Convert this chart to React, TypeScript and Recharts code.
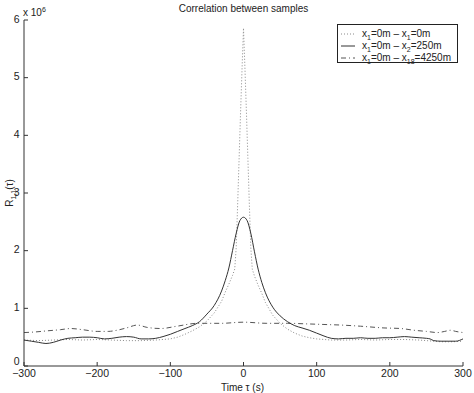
import React from 'react';
import { LineChart, Line, XAxis, YAxis } from 'recharts';

// Values are in units of 10^6
const xTicks = [-300, -200, -100, 0, 100, 200, 300];
const yTicks = [0, 1, 2, 3, 4, 5, 6];

// x1=0m – x1=0m (autocorrelation, dotted)
const autoT = [-300, -280, -260, -240, -220, -200, -180, -160, -140, -120, -100, -90, -80, -70, -60, -50, -40, -30, -25, -20, -15, -12, -10, -8, -6, -4, -2, 0,
  2, 4, 6, 8, 10, 12, 15, 20, 25, 30, 40, 50, 60, 70, 80, 90, 100, 120, 140, 160, 180, 200, 220, 240, 250, 270, 285, 300];
const autoV = [0.45, 0.44, 0.45, 0.46, 0.45, 0.46, 0.45, 0.44, 0.44, 0.45, 0.47, 0.5, 0.55, 0.61, 0.68, 0.78, 0.92, 1.12, 1.28, 1.42, 1.57, 1.68, 2.05, 2.8, 3.6, 4.4, 5.15, 5.86,
  5.15, 4.4, 3.6, 2.8, 2.05, 1.68, 1.56, 1.4, 1.26, 1.1, 0.88, 0.74, 0.64, 0.57, 0.52, 0.49, 0.47, 0.45, 0.45, 0.46, 0.45, 0.46, 0.46, 0.45, 0.44, 0.42, 0.42, 0.43];

// x1=0m – x2=250m (solid)
const nearT = [-300, -290, -280, -270, -260, -250, -240, -230, -220, -210, -200, -190, -180, -170, -160, -150, -140, -130, -120, -110, -100, -90, -80, -70, -60, -50, -40, -30, -25, -20, -15, -10, -5, 0,
  5, 10, 15, 20, 25, 30, 40, 50, 60, 70, 80, 90, 100, 110, 120, 130, 140, 150, 160, 170, 180, 190, 200, 210, 220, 230, 240, 250, 255, 260, 270, 280, 290, 300];
const nearV = [0.45, 0.43, 0.41, 0.39, 0.41, 0.45, 0.48, 0.49, 0.5, 0.5, 0.49, 0.47, 0.48, 0.5, 0.51, 0.5, 0.47, 0.47, 0.48, 0.51, 0.55, 0.6, 0.65, 0.7, 0.77, 0.9, 1.05, 1.3, 1.48, 1.7, 2.0, 2.3, 2.52, 2.58,
  2.52, 2.3, 1.98, 1.68, 1.45, 1.27, 1.02, 0.87, 0.77, 0.7, 0.66, 0.62, 0.57, 0.52, 0.48, 0.47, 0.48, 0.48, 0.49, 0.48, 0.48, 0.49, 0.49, 0.5, 0.51, 0.5, 0.49, 0.48, 0.47, 0.44, 0.43, 0.43, 0.43, 0.47];

// x1=0m – x18=4250m (dash-dot)
const farT = [-300, -285, -268, -250, -236, -220, -200, -185, -173, -160, -145, -132, -113, -91, -63, -31, 0, 32, 60, 87, 110, 133, 160, 192, 215, 233, 250, 265, 275, 283, 290, 300];
const farV = [0.58, 0.59, 0.61, 0.63, 0.65, 0.63, 0.6, 0.6, 0.62, 0.66, 0.71, 0.67, 0.65, 0.69, 0.74, 0.74, 0.76, 0.74, 0.74, 0.73, 0.72, 0.71, 0.69, 0.66, 0.65, 0.62, 0.6, 0.58, 0.6, 0.62, 0.6, 0.58];

const title = 'Correlation between samples';
const xLabel = 'Time τ (s)';

const autoData = autoT.map((t, i) => ({ t, v: autoV[i] }));
const nearData = nearT.map((t, i) => ({ t, v: nearV[i] }));
const farData = farT.map((t, i) => ({ t, v: farV[i] }));

const FONT = '"Liberation Sans", Arial, Helvetica, sans-serif';
const AXIS = '#333';
const DOT = { stroke: '#8a8a8a', dash: '1 2' };
const SOLID = { stroke: '#333', dash: undefined as string | undefined };
const DASHDOT = { stroke: '#555', dash: '5 3 1 3' };

const fmt = (v: number) => (v < 0 ? '\u2212' + Math.abs(v) : String(v));

const Sub = ({ children }: { children: React.ReactNode }) => (
  <span style={{ fontSize: 7, position: 'relative', top: 3 }}>{children}</span>
);

const YTick = (props: any) => {
  const { x, y, payload } = props;
  const lift = payload.value === 0 ? -5 : -1;
  return (
    <text x={x} y={y + lift} dy="0.35em" textAnchor="end" fill="#222" fontSize={10.5} fontFamily={FONT}>
      {fmt(payload.value)}
    </text>
  );
};

const legendRows = [
  { style: DOT, a: '1', b: '1', rest: '=0m' },
  { style: SOLID, a: '1', b: '2', rest: '=250m' },
  { style: DASHDOT, a: '1', b: '18', rest: '=4250m' },
];

export default function App() {
  return (
    <div style={{ position: 'absolute', left: 0, top: 0, width: 474, height: 393, background: '#fff', fontFamily: FONT }}>
      <LineChart width={474} height={393} margin={{ top: 20, right: 11, left: 0, bottom: 0 }}>
        <XAxis
          type="number"
          dataKey="t"
          domain={[-300, 300]}
          ticks={xTicks}
          allowDataOverflow
          height={27}
          tickSize={-4}
          tickMargin={8}
          tickFormatter={fmt}
          axisLine={{ stroke: AXIS }}
          tickLine={{ stroke: AXIS }}
          tick={{ fill: '#222', fontSize: 10.5, fontFamily: FONT }}
        />
        <YAxis
          type="number"
          domain={[0, 6]}
          ticks={yTicks}
          allowDataOverflow
          width={24}
          tickSize={-4}
          tickMargin={8.5}
          axisLine={{ stroke: AXIS }}
          tickLine={{ stroke: AXIS }}
          tick={<YTick />}
        />
        <Line data={autoData} dataKey="v" type="linear" stroke={DOT.stroke} strokeDasharray={DOT.dash} strokeWidth={1} dot={false} isAnimationActive={false} />
        <Line data={farData} dataKey="v" type="monotone" stroke={DASHDOT.stroke} strokeDasharray={DASHDOT.dash} strokeWidth={1} dot={false} isAnimationActive={false} />
        <Line data={nearData} dataKey="v" type="monotone" stroke={SOLID.stroke} strokeWidth={1} dot={false} isAnimationActive={false} />
      </LineChart>

      <div style={{ position: 'absolute', left: 0, width: 487, top: 3, textAlign: 'center', fontSize: 10, lineHeight: '12px', color: '#222' }}>{title}</div>

      <div style={{ position: 'absolute', left: 23, top: 7, fontSize: 10, lineHeight: '12px', color: '#222', whiteSpace: 'nowrap' }}>
        x 10<span style={{ fontSize: 7, position: 'relative', top: -4 }}>6</span>
      </div>

      <div style={{ position: 'absolute', left: 10, top: 193, transform: 'translate(-50%, -50%) rotate(-90deg)', fontSize: 10, lineHeight: '12px', color: '#222', whiteSpace: 'nowrap' }}>
        R<Sub>1,1</Sub>(τ)
      </div>

      <div style={{ position: 'absolute', left: 0, width: 485, top: 382, textAlign: 'center', fontSize: 10, lineHeight: '11px', color: '#222' }}>{xLabel}</div>

      <div style={{ position: 'absolute', left: 337, top: 24, width: 121, height: 39, boxSizing: 'border-box', border: '1px solid #222', background: '#fff' }}>
        {legendRows.map((r, i) => (
          <div key={i} style={{ position: 'absolute', left: 0, top: 3 + i * 12, height: 12, width: 119 }}>
            <svg width={16} height={12} style={{ position: 'absolute', left: 2, top: 0 }}>
              <line x1={1} y1={6} x2={15} y2={6} stroke={r.style.stroke} strokeDasharray={r.style.dash} strokeWidth={1} />
            </svg>
            <div style={{ position: 'absolute', left: 24, top: 0, fontSize: 10, lineHeight: '12px', color: '#222', whiteSpace: 'nowrap' }}>
              x<Sub>1</Sub>=0m – x<Sub>{r.b}</Sub>{r.rest}
            </div>
          </div>
        ))}
      </div>
    </div>
  );
}
